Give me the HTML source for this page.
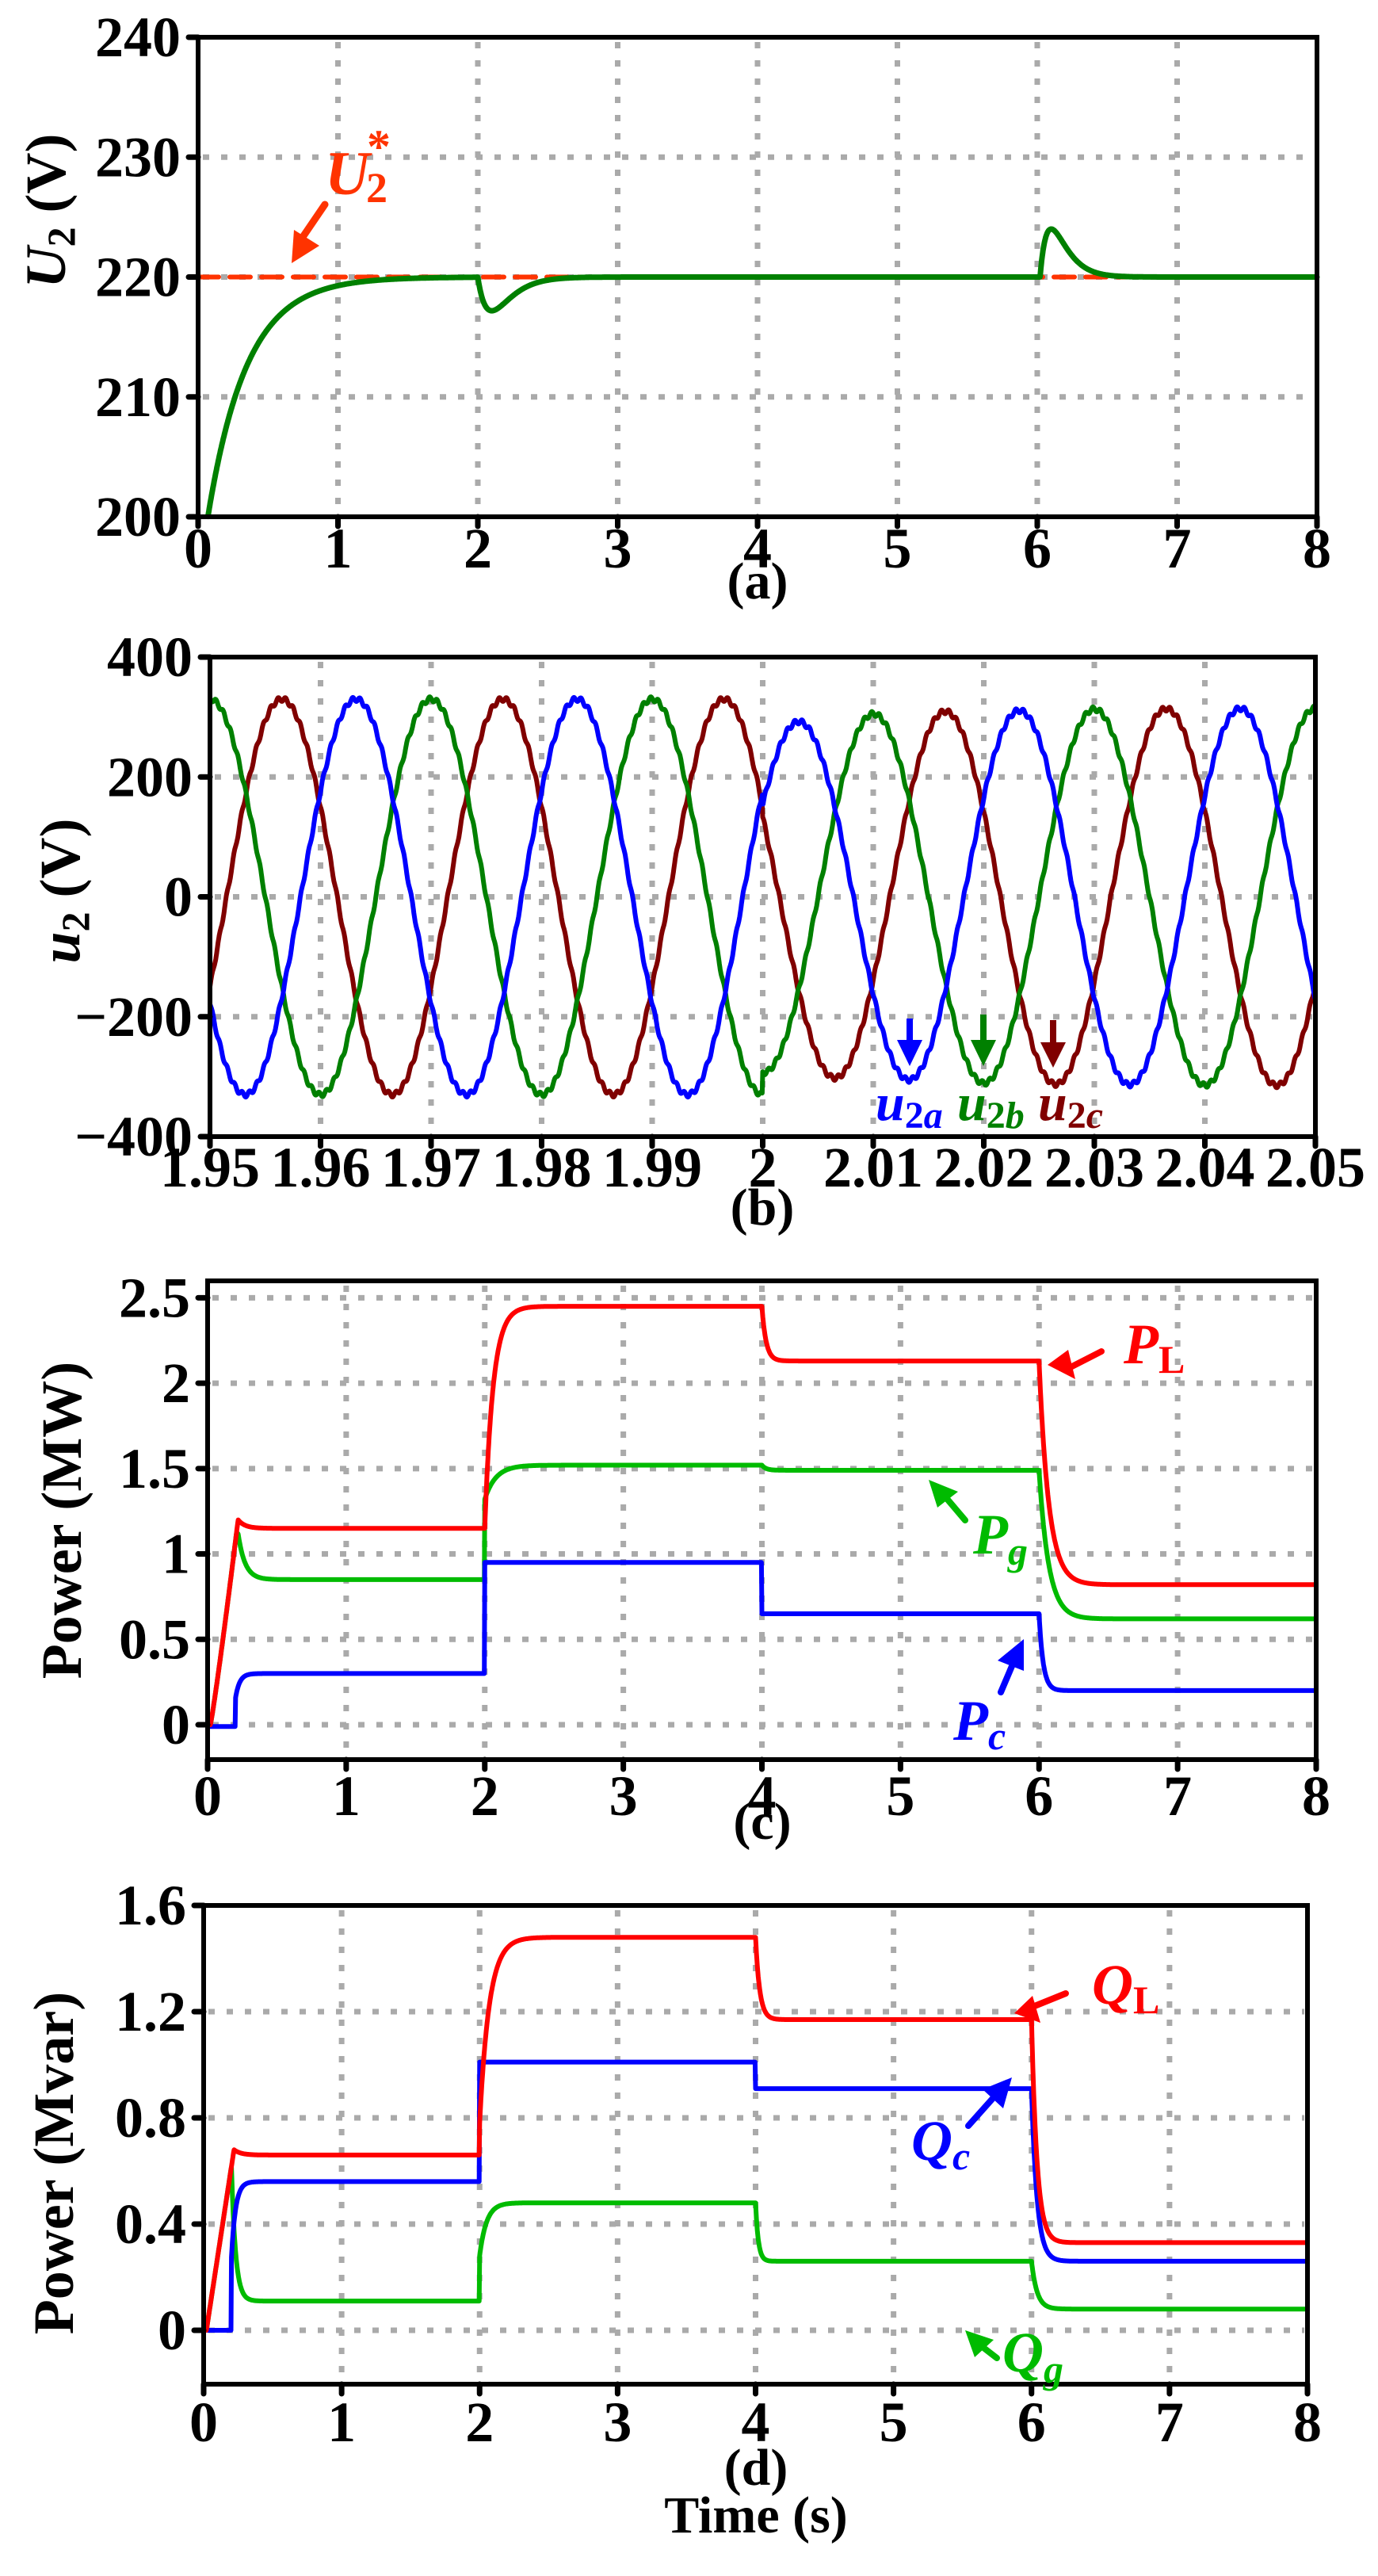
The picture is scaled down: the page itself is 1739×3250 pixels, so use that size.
<!DOCTYPE html>
<html><head><meta charset="utf-8">
<style>
html,body{margin:0;padding:0;background:#fff;}
svg{display:block;}
svg text{font-family:"Liberation Serif","Times New Roman",serif;font-weight:bold;}
</style></head>
<body>
<svg id="s" width="1739" height="3250" viewBox="0 0 1739 3250" xmlns="http://www.w3.org/2000/svg" font-family="Liberation Serif, Times New Roman, serif" font-weight="bold">
<rect width="1739" height="3250" fill="#fff"/>
<g id="g"></g>
<text transform="translate(82,266) rotate(-90)" text-anchor="middle" font-size="72"><tspan font-style="italic">U</tspan><tspan font-size="50" dy="12">2</tspan><tspan dy="-12"> (V)</tspan></text>
<text transform="translate(100,1124) rotate(-90)" text-anchor="middle" font-size="72"><tspan font-style="italic">u</tspan><tspan font-size="50" dy="12">2</tspan><tspan dy="-12"> (V)</tspan></text>
<text transform="translate(102,1918) rotate(-90)" text-anchor="middle" font-size="72">Power (MW)</text>
<text transform="translate(92,2729) rotate(-90)" text-anchor="middle" font-size="72">Power (Mvar)</text>
<text x="956" y="755" text-anchor="middle" font-size="66">(a)</text>
<text x="962" y="1545" text-anchor="middle" font-size="66">(b)</text>
<text x="962" y="2320" text-anchor="middle" font-size="66">(c)</text>
<text x="954" y="3135" text-anchor="middle" font-size="66">(d)</text>
<text x="954" y="3195" text-anchor="middle" font-size="66">Time (s)</text>
<g fill="#ff3300">
<text x="410" y="245" font-size="78" font-style="italic">U</text>
<text x="462" y="255" font-size="54">2</text>
<text x="463" y="205" font-size="60">*</text>
</g>
<line x1="410" y1="258" x2="378" y2="305" stroke="#ff3300" stroke-width="9" stroke-linecap="round"/>
<polygon points="368,332 371,290 403,310" fill="#ff3300"/>
<line x1="1148" y1="1285" x2="1148" y2="1320" stroke="#0000ff" stroke-width="8"/>
<polygon points="1132,1312 1164,1312 1148,1345" fill="#0000ff"/>
<line x1="1241" y1="1280" x2="1241" y2="1318" stroke="#008000" stroke-width="8"/>
<polygon points="1225,1312 1257,1312 1241,1345" fill="#008000"/>
<line x1="1329" y1="1287" x2="1329" y2="1322" stroke="#800000" stroke-width="8"/>
<polygon points="1313,1315 1345,1315 1329,1347" fill="#800000"/>
<text x="1105" y="1413" font-size="66" fill="#0000ff"><tspan font-style="italic">u</tspan><tspan font-size="48" dy="10">2<tspan font-style="italic">a</tspan></tspan></text>
<text x="1208" y="1413" font-size="66" fill="#008000"><tspan font-style="italic">u</tspan><tspan font-size="48" dy="10">2<tspan font-style="italic">b</tspan></tspan></text>
<text x="1310" y="1413" font-size="66" fill="#800000"><tspan font-style="italic">u</tspan><tspan font-size="48" dy="10">2<tspan font-style="italic">c</tspan></tspan></text>
<text x="1418" y="1720" font-size="72" fill="#ff0000"><tspan font-style="italic">P</tspan><tspan font-size="50" dy="12">L</tspan></text>
<line x1="1390" y1="1705" x2="1345" y2="1728" stroke="#ff0000" stroke-width="8" stroke-linecap="round"/>
<polygon points="1322,1722 1348,1703 1357,1740" fill="#ff0000"/>
<text x="1228" y="1960" font-size="72" fill="#00bb00"><tspan font-style="italic">P</tspan><tspan font-size="50" dy="14" font-style="italic">g</tspan></text>
<line x1="1218" y1="1918" x2="1190" y2="1885" stroke="#00bb00" stroke-width="8" stroke-linecap="round"/>
<polygon points="1172,1867 1209,1882 1183,1902" fill="#00bb00"/>
<text x="1203" y="2195" font-size="72" fill="#0000ff"><tspan font-style="italic">P</tspan><tspan font-size="50" dy="12" font-style="italic">c</tspan></text>
<line x1="1263" y1="2135" x2="1280" y2="2095" stroke="#0000ff" stroke-width="8" stroke-linecap="round"/>
<polygon points="1292,2068 1292,2108 1259,2095" fill="#0000ff"/>
<text x="1378" y="2528" font-size="72" fill="#ff0000"><tspan font-style="italic">Q</tspan><tspan font-size="50" dy="12">L</tspan></text>
<line x1="1345" y1="2515" x2="1303" y2="2532" stroke="#ff0000" stroke-width="8" stroke-linecap="round"/>
<polygon points="1280,2540 1303,2518 1313,2552" fill="#ff0000"/>
<text x="1150" y="2725" font-size="72" fill="#0000ff"><tspan font-style="italic">Q</tspan><tspan font-size="50" dy="12" font-style="italic">c</tspan></text>
<line x1="1222" y1="2682" x2="1255" y2="2645" stroke="#0000ff" stroke-width="8" stroke-linecap="round"/>
<polygon points="1277,2621 1266,2660 1240,2636" fill="#0000ff"/>
<text x="1265" y="2992" font-size="72" fill="#00bb00"><tspan font-style="italic">Q</tspan><tspan font-size="50" dy="14" font-style="italic">g</tspan></text>
<line x1="1258" y1="2975" x2="1236" y2="2958" stroke="#00bb00" stroke-width="8" stroke-linecap="round"/>
<polygon points="1218,2940 1254,2952 1230,2974" fill="#00bb00"/>
</svg>
<script>
(function(){
var g=document.getElementById('g');var NS='http://www.w3.org/2000/svg';
function el(n,a,p){var e=document.createElementNS(NS,n);for(var k in a)e.setAttribute(k,a[k]);(p||g).appendChild(e);return e;}
var FF='Liberation Serif, Times New Roman, serif';
function panel(P){
 var sx=function(x){return P.L+(x-P.x0)/(P.x1-P.x0)*(P.R-P.L);};
 var sy=function(y){return P.B-(y-P.y0)/(P.y1-P.y0)*(P.B-P.T);};
 P.gx.forEach(function(x){el('line',{x1:sx(x),x2:sx(x),y1:P.T+6,y2:P.B-4,stroke:'#aaa','stroke-width':7,'stroke-dasharray':'8 15'});});
 P.gy.forEach(function(y){el('line',{x1:P.L+6,x2:P.R-4,y1:sy(y),y2:sy(y),stroke:'#aaa','stroke-width':7,'stroke-dasharray':'8 15'});});
 P.series.forEach(function(s){
  var d='';var n=2500;
  for(var i=0;i<=n;i++){var x=P.x0+(P.x1-P.x0)*i/n;var y=s.f(x);if(y===null)continue;
   y=Math.max(P.y0,Math.min(P.y1,y));d+=(d?'L':'M')+sx(x).toFixed(1)+' '+sy(y).toFixed(1);}
  el('path',{d:d,fill:'none',stroke:s.c,'stroke-width':s.w||6,'stroke-linejoin':'round','stroke-linecap':'round','stroke-dasharray':s.dash||'none'});
 });
 el('rect',{x:P.L,y:P.T,width:P.R-P.L,height:P.B-P.T,fill:'none',stroke:'#000','stroke-width':6});
 P.tx.forEach(function(x){var X=sx(x);el('line',{x1:X,x2:X,y1:P.B,y2:P.B+12,stroke:'#000','stroke-width':7,'stroke-linecap':'round'});
  var t=el('text',{x:X,y:P.xb,'text-anchor':'middle','font-size':72,'font-family':FF,'font-weight':'bold'});t.textContent=P.fx(x);});
 P.ty.forEach(function(y){var Y=sy(y);el('line',{x1:P.L-12,x2:P.L,y1:Y,y2:Y,stroke:'#000','stroke-width':7,'stroke-linecap':'round'});
  var t=el('text',{x:P.L-22,y:Y+24,'text-anchor':'end','font-size':72,'font-family':FF,'font-weight':'bold'});t.textContent=P.fy(y);});
}
function E(t,t0,tau){return Math.exp(-(t-t0)/tau);}
function bump(t,t0,tau){if(t<t0)return 0;var x=(t-t0)/tau;return x*Math.exp(1-x);}
panel({L:250,R:1662,T:47,B:652,x0:0,x1:8,y0:200,y1:240,xb:716,
 gx:[1,2,3,4,5,6,7],gy:[210,220,230],tx:[0,1,2,3,4,5,6,7,8],ty:[200,210,220,230,240],
 fx:String,fy:String,
 series:[
 {c:'#ff3300',w:6,dash:'26 14',f:function(t){return 220;}},
 {c:'#008000',w:7,f:function(t){if(t<0.07)return null;var u=220-20*E(t,0.07,0.28);u-=2.8*bump(t,2,0.1);u+=4*bump(t,6.02,0.08);return u;}}
 ]});
var w=2*Math.PI*50;
function A(t){return t<2?330:315-22*E(t,2,0.012);}
function rip(t){return 4*Math.sin(2*Math.PI*t*1500);}
panel({L:265,R:1660,T:829,B:1434,x0:1.95,x1:2.05,y0:-400,y1:400,xb:1497,
 gx:[1.96,1.97,1.98,1.99,2,2.01,2.02,2.03,2.04],gy:[-200,0,200],
 tx:[1.95,1.96,1.97,1.98,1.99,2,2.01,2.02,2.03,2.04,2.05],ty:[-400,-200,0,200,400],
 fx:function(x){return (Math.round(x*100)/100).toString();},fy:function(y){return y<0?'\u2212'+(-y):String(y);},
 series:[
 {c:'#800000',f:function(t){return A(t)*Math.cos(w*(t-1.9765))+rip(t);}},
 {c:'#008000',f:function(t){return A(t)*Math.cos(w*(t-1.97))+rip(t+0.0003);}},
 {c:'#0000ff',f:function(t){return (t>2?A(t)-8*E(t,2,0.01):A(t))*Math.cos(w*(t-1.9632))+rip(t+0.0006);}}
 ]});
function PL(t){if(t<0.02)return 0;if(t<0.22)return 1.2*Math.pow((t-0.02)/0.2,1.1);if(t<2)return 1.15+0.05*E(t,0.22,0.05);
 if(t<4)return 2.45-1.3*E(t,2,0.06);if(t<6)return 2.13+0.32*E(t,4,0.03);return 0.82+1.31*E(t,6,0.07);}
function PG(t){if(t<0.22)return Math.min(PL(t),1.12);if(t<2)return 0.85+0.27*E(t,0.22,0.05);
 if(t<4)return 1.52-0.2*E(t,2,0.08);if(t<6)return 1.49+0.03*E(t,4,0.03);return 0.62+0.87*E(t,6,0.07);}
function PC(t){if(t<0.2)return -0.01;if(t<2)return 0.3-0.15*E(t,0.2,0.03);if(t<4)return 0.95;if(t<6)return 0.65;return 0.2+0.45*E(t,6,0.03);}
panel({L:262,R:1661,T:1616,B:2220,x0:0,x1:8,y0:-0.204,y1:2.599,xb:2290,
 gx:[1,2,3,4,5,6,7],gy:[0,0.5,1,1.5,2,2.5],tx:[0,1,2,3,4,5,6,7,8],ty:[0,0.5,1,1.5,2,2.5],
 fx:String,fy:String,
 series:[{c:'#00bb00',f:PG},{c:'#0000ff',f:PC},{c:'#ff0000',f:PL}]});
function QL(t){if(t<0.02)return 0;if(t<0.22)return 0.68*((t-0.02)/0.2);if(t<2)return 0.66+0.02*E(t,0.22,0.05);
 if(t<4)return 1.48-0.7*E(t,2,0.07);if(t<6)return 1.17+0.31*E(t,4,0.03);return 0.33+0.84*E(t,6,0.04);}
function QC(t){if(t<0.2)return 0;if(t<2)return 0.56-0.3*E(t,0.2,0.03);if(t<4)return 1.01;if(t<6)return 0.91;return 0.26+0.65*E(t,6,0.04);}
function QG(t){if(t<0.2)return Math.min(QL(t),0.64);if(t<2)return 0.11+0.53*E(t,0.2,0.03);
 if(t<4)return 0.48-0.2*E(t,2,0.05);if(t<6)return 0.26+0.22*E(t,4,0.02);return 0.08+0.18*E(t,6,0.04);}
panel({L:257,R:1650,T:2404,B:3008,x0:0,x1:8,y0:-0.203,y1:1.6,xb:3080,
 gx:[1,2,3,4,5,6,7],gy:[0,0.4,0.8,1.2],tx:[0,1,2,3,4,5,6,7,8],ty:[0,0.4,0.8,1.2,1.6],
 fx:String,fy:function(y){return y===0?'0':y.toFixed(1);},
 series:[{c:'#00bb00',f:QG},{c:'#0000ff',f:QC},{c:'#ff0000',f:QL}]});
})();
</script>
</body></html>
